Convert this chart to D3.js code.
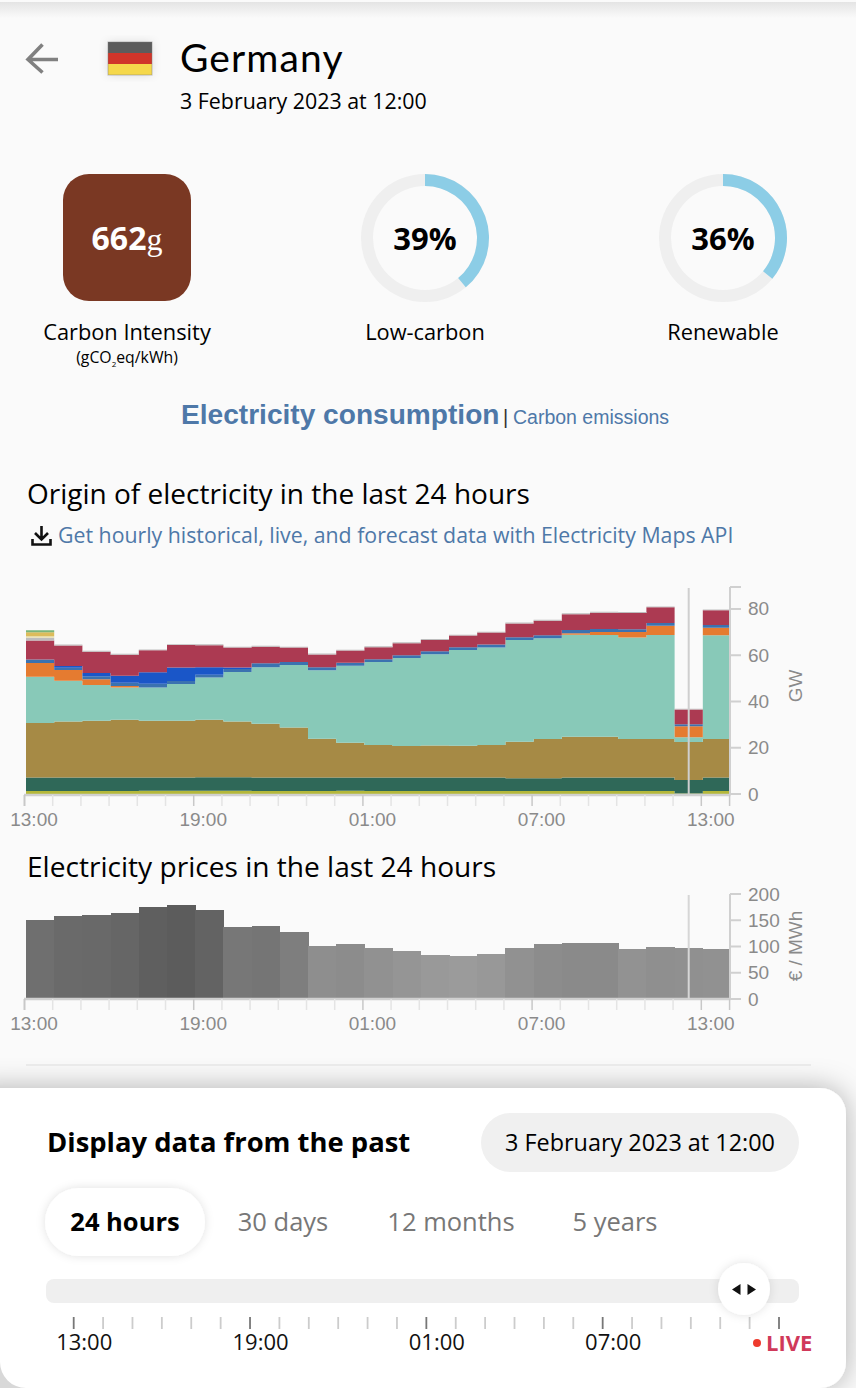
<!DOCTYPE html>
<html lang="en">
  <head>
    <meta charset="UTF-8">
    <title>Germany - electricity origin</title>
    <style>
      html, body { margin: 0; padding: 0; background: #fafafa; }
      svg { display: block; }
      text { font-family: "Open Sans", sans-serif; }
      .chart-axis text { font-family: "Liberation Sans", Arial, sans-serif; font-size: 19px; fill: #8a8a8a; }
    </style>
  </head>

  <body>
    <div id="page"></div>
    <script src="https://d3js.org/d3.v7.min.js"></script>
    <script>
      // one value per hour, 13:00 to 13:00 the next day (GW)
      const hourLabels = ["13:00", "19:00", "01:00", "07:00", "13:00"];
      const biomass = [1.3,1.3,1.3,1.3,1.4,1.4,1.4,1.4,1.3,1.3,1.3,1.4,1.3,1.3,1.3,1.3,1.3,1.3,1.3,1.3,1.3,1.3,1.3,0.2,1.3];
      const nuclear = [5.8,5.8,5.8,5.8,5.7,5.7,5.8,5.8,5.8,5.8,5.8,5.7,5.8,5.8,5.8,5.8,5.8,5.5,5.5,5.8,5.8,5.8,5.8,5.8,5.8];
      const coal = [23.6,24.2,24.6,25.0,24.6,24.6,24.9,24.2,23.3,21.6,16.8,15.1,14.1,13.7,13.9,13.8,14.1,15.8,17.0,17.7,17.7,16.7,16.7,16.5,16.7];
      const wind = [20.0,17.7,15.4,14.0,14.3,15.9,18.3,21.3,24.4,27.1,29.6,33.2,35.9,38.0,39.4,41.4,42.1,44.0,43.5,44.1,44.0,43.9,45.0,2.0,44.8];
      const solar = [5.9,4.6,2.5,0.6,0.1,0,0,0,0,0,0,0,0,0,0,0,0,0,0,0.6,1.2,2.3,3.9,4.8,3.3];
      const hydro = [1.6,1.0,1.3,1.4,1.6,1.3,1.2,1.4,1.7,1.3,1.3,1.4,1.2,1.2,1.3,1.2,1.3,1.2,1.3,1.4,1.3,1.2,1.2,0.9,1.2];
      const storage = [0,0.7,1.4,3.0,4.9,5.8,3.2,0.6,0,0,0,0,0,0,0,0,0,0,0,0,0,0,0,0,0];
      const gas = [8.2,8.9,9.2,9.1,9.5,9.7,9.5,8.6,7.2,6.2,5.5,5.2,5.2,5.2,4.9,5.0,5.2,5.9,6.3,6.8,7.1,7.1,6.8,6.3,6.3];
      const other = [1.2,0.4,0.4,0.4,0.4,0.4,0.4,0.4,0.4,0.4,0.4,0.4,0.4,0.4,0.4,0.4,0.4,0.4,0.4,0.4,0.4,0.4,0.4,0.4,0.4];
      const importA = [1.7,0,0,0,0,0,0,0,0,0,0,0,0,0,0,0,0,0,0,0,0,0,0,0,0];
      const importB = [0.6,0,0,0,0,0,0,0,0,0,0,0,0,0,0,0,0,0,0,0,0,0,0,0,0];
      const importC = [0.9,0,0,0,0,0,0,0,0,0,0,0,0,0,0,0,0,0,0,0,0,0,0,0,0];
      const prices = [150,158,160,164,175,180,169,138,140,127,101,105,97,91,84,81,86,97,104,107,107,95,100,98,96];

      const layerNames = ["biomass","nuclear","coal","wind","solar","hydro","storage","gas","other","importB","importA","importC"];
      const layerValues = [biomass,nuclear,coal,wind,solar,hydro,storage,gas,other,importB,importA,importC];
      const layerColors = ["#b5b83a","#2f6858","#a68a45","#88c9b8","#e57b30","#3b72b0","#1a56c8","#ac3a52","#bdbdbd","#e9dfb0","#dcbc5a","#7ab57a"];

      const gwTicks = [0, 20, 40, 60, 80];
      const priceTicks = [0, 50, 100, 150, 200];
      const axisEndHour = 24.95;   // the time axis stops just short of 14:00
      const cursorHour = 23.5;
      const carbonIntensity = 662;
      const lowCarbon = 39;
      const renewable = 36;
      const rangeTabs = ["24 hours", "30 days", "12 months", "5 years"];

      const blue = "#4e78a8";
      const svg = d3.select("#page").append("svg").attr("width", 856).attr("height", 1388);
      const defs = svg.append("defs");

      const shadow = defs.append("filter").attr("id", "soft").attr("x", "-20%").attr("y", "-20%").attr("width", "140%").attr("height", "140%");
      shadow.append("feDropShadow").attr("dx", 0).attr("dy", 0).attr("stdDeviation", 5).attr("flood-color", "#000").attr("flood-opacity", 0.12);
      const panelShadow = defs.append("filter").attr("id", "panelsoft").attr("x", "-5%").attr("y", "-10%").attr("width", "110%").attr("height", "120%");
      panelShadow.append("feDropShadow").attr("dx", 0).attr("dy", 0).attr("stdDeviation", 14).attr("flood-color", "#000").attr("flood-opacity", 0.3);

      const topFade = defs.append("linearGradient").attr("id", "topfade").attr("x1", 0).attr("x2", 0).attr("y1", 0).attr("y2", 1);
      topFade.append("stop").attr("offset", 0).attr("stop-color", "#e4e4e4");
      topFade.append("stop").attr("offset", 1).attr("stop-color", "#fafafa");

      svg.append("rect").attr("width", 856).attr("height", 1388).attr("fill", "#fafafa");
      svg.append("rect").attr("width", 856).attr("y", 2).attr("height", 16).attr("fill", "url(#topfade)");

      function label(g, x, y, str, size, opts) {
        opts = opts || {};
        return g.append("text").attr("x", x).attr("y", y).attr("text-anchor", opts.anchor || "start")
          .style("font-size", size + "px").style("font-weight", opts.weight || 400)
          .style("font-family", opts.family || null).attr("fill", opts.fill || "#000").text(str);
      }

      // header
      svg.append("path").attr("d", "M58 59.5H30M42.5 44.5L28 59.5L42.5 72.5").attr("fill", "none").attr("stroke", "#808080").attr("stroke-width", 3.6);
      const flagColors = ["#5b5b5b", "#d0352c", "#f5d84c"];
      const flag = svg.append("g").attr("filter", "url(#soft)");
      flagColors.forEach(function(c, i) {
        flag.append("rect").attr("x", 108).attr("y", 42 + i * 11).attr("width", 44).attr("height", 11).attr("fill", c);
      });
      svg.append("rect").attr("x", 108).attr("y", 42).attr("width", 44).attr("height", 33).attr("fill", "none").attr("stroke", "#777").attr("stroke-opacity", 0.45);
      label(svg, 180, 72, "Germany", 39, {family: "Lato"}).style("letter-spacing", "1.1px");
      label(svg, 180, 109, "3 February 2023 at 12:00", 21.4);

      // carbon square and the two rings
      svg.append("rect").attr("x", 63).attr("y", 174).attr("width", 128).attr("height", 127).attr("rx", 26).attr("fill", "#7a3823");
      const co2 = svg.append("text").attr("x", 127).attr("y", 250).attr("text-anchor", "middle").attr("fill", "#fff");
      co2.append("tspan").style("font-size", "32px").style("font-weight", 700).text(carbonIntensity);
      co2.append("tspan").style("font-size", "32px").style("font-family", "Liberation Serif").text("g");
      label(svg, 127, 340, "Carbon Intensity", 21.8, {anchor: "middle"});
      const unit = svg.append("text").attr("x", 127).attr("y", 363).attr("text-anchor", "middle").style("font-size", "15.8px");
      unit.append("tspan").text("(gCO");
      unit.append("tspan").attr("dy", 4).style("font-size", "8px").text("2");
      unit.append("tspan").attr("dy", -4).text("eq/kWh)");

      const ringArc = d3.arc().innerRadius(52).outerRadius(64);
      [[425, lowCarbon, "Low-carbon"], [723, renewable, "Renewable"]].forEach(function(r) {
        const g = svg.append("g").attr("transform", "translate(" + r[0] + ",238)");
        g.append("path").attr("d", ringArc({startAngle: 0, endAngle: 2 * Math.PI})).attr("fill", "#efefef");
        g.append("path").attr("d", ringArc({startAngle: 0, endAngle: 2 * Math.PI * r[1] / 100})).attr("fill", "#8ccde6");
        label(g, 0, 12, r[1] + "%", 31, {anchor: "middle", weight: 700});
        label(g, 0, 102, r[2], 21.8, {anchor: "middle"});
      });

      // toggle
      label(svg, 181, 424, "Electricity consumption", 28.1, {family: "Liberation Sans", weight: 700, fill: blue});
      label(svg, 503, 424, "|", 20, {family: "Liberation Sans", fill: "#333"});
      label(svg, 513, 424, "Carbon emissions", 19.5, {family: "Liberation Sans", fill: blue});

      label(svg, 27, 504, "Origin of electricity in the last 24 hours", 28);
      svg.append("path").attr("d", "M41.5 526V539M35 533L41.5 539.5L48 533M32.5 539V544.5H50.5V539").attr("fill", "none").attr("stroke", "#111").attr("stroke-width", 2.6);
      label(svg, 58, 543, "Get hourly historical, live, and forecast data with Electricity Maps API", 21.3, {fill: blue});

      // shared x scale, one step per hour
      const x = d3.scaleLinear().domain([0, axisEndHour]).range([26, 729.6]);
      const hours = d3.range(25);

      function drawHourAxis(y0) {
        const g = svg.append("g").attr("class", "chart-axis");
        g.append("line").attr("x1", 24).attr("x2", 730.5).attr("y1", y0).attr("y2", y0).attr("stroke", "#d0d0d0").attr("stroke-width", 2.5);
        hours.concat([axisEndHour]).forEach(function(h) {
          const major = h % 6 === 0;
          const tx = h === axisEndHour ? x(h) : x(h) - 1.5;
          g.append("line").attr("x1", tx).attr("x2", tx).attr("y1", y0).attr("y2", y0 + 11)
            .attr("stroke", major || h === axisEndHour ? "#c8c8c8" : "#e4e4e4").attr("stroke-width", h === 0 ? 2 : 1.5);
        });
        hourLabels.forEach(function(t, i) {
          g.append("text").attr("x", x(i * 6) + 8).attr("y", y0 + 31).attr("text-anchor", "middle").text(t);
        });
      }

      function drawValueAxis(y, ticks, title, titleY) {
        const g = svg.append("g").attr("class", "chart-axis");
        g.append("line").attr("x1", 730).attr("x2", 730).attr("y1", y.range()[1]).attr("y2", y.range()[0]).attr("stroke", "#d0d0d0").attr("stroke-width", 2);
        const tickValues = ticks.concat(y.domain()[1] === ticks[ticks.length - 1] ? [] : [y.domain()[1]]);
        tickValues.forEach(function(v) {
          g.append("line").attr("x1", 730).attr("x2", 741).attr("y1", y(v)).attr("y2", y(v)).attr("stroke", "#d0d0d0").attr("stroke-width", 2);
        });
        ticks.forEach(function(v) {
          g.append("text").attr("x", 748).attr("y", y(v) + 6.5).text(v);
        });
        g.append("text").attr("transform", "translate(802," + titleY + ") rotate(-90)").attr("text-anchor", "middle").text(title);
      }

      // origin chart
      const yGw = d3.scaleLinear().domain([0, 89.5]).range([794, 587]);
      const rows = hours.concat([axisEndHour]).map(function(h) {
        const row = {hour: h};
        layerNames.forEach(function(n, i) { row[n] = layerValues[i][Math.min(Math.floor(h), 24)]; });
        return row;
      });
      const stacked = d3.stack().keys(layerNames)(rows);
      const area = d3.area().curve(d3.curveStepAfter)
        .x(function(d) { return x(d.data.hour); })
        .y0(function(d) { return yGw(d[0]); })
        .y1(function(d) { return yGw(d[1]); });

      svg.append("g").selectAll("path").data(stacked).join("path")
        .attr("d", area).attr("fill", function(d, i) { return layerColors[i]; });

      drawHourAxis(795);
      drawValueAxis(yGw, gwTicks, "GW", 686);
      svg.append("line").attr("x1", x(cursorHour)).attr("x2", x(cursorHour)).attr("y1", 588).attr("y2", 795).attr("stroke", "#cfcfcf").attr("stroke-width", 2);

      // price chart
      label(svg, 27, 877, "Electricity prices in the last 24 hours", 28.1);
      const yPrice = d3.scaleLinear().domain([0, 200]).range([999, 894]);
      const priceColor = d3.scaleLinear().domain([81, 180]).range(["#9b9b9b", "#5c5c5c"]);
      svg.append("g").attr("shape-rendering", "crispEdges").selectAll("rect").data(prices).join("rect")
        .attr("x", function(d, i) { return x(i); })
        .attr("width", function(d, i) { return x(Math.min(i + 1, axisEndHour)) - x(i) + 0.5; })
        .attr("y", function(d) { return yPrice(d); })
        .attr("height", function(d) { return yPrice(0) - yPrice(d); })
        .attr("fill", function(d) { return priceColor(d); });
      drawHourAxis(999);
      drawValueAxis(yPrice, priceTicks, "€ / MWh", 946);
      svg.append("line").attr("x1", x(cursorHour)).attr("x2", x(cursorHour)).attr("y1", 895).attr("y2", 999).attr("stroke", "#d6d6d6").attr("stroke-width", 2);

      svg.append("line").attr("x1", 26).attr("x2", 811).attr("y1", 1065).attr("y2", 1065).attr("stroke", "#e8e8e8").attr("stroke-width", 1.5);

      // bottom panel
      svg.append("rect").attr("x", -40).attr("y", 1088).attr("width", 886).attr("height", 300).attr("rx", 26).attr("fill", "#fff").attr("filter", "url(#panelsoft)");
      svg.append("path").attr("d", "M0 1388H26A26 26 0 0 1 0 1362Z").attr("fill", "#d8d8d8");
      label(svg, 47, 1152, "Display data from the past", 27.4, {weight: 700});
      svg.append("rect").attr("x", 481).attr("y", 1113).attr("width", 318).attr("height", 59).attr("rx", 29.5).attr("fill", "#f0f0f0");
      label(svg, 640, 1151, "3 February 2023 at 12:00", 23.4, {anchor: "middle"});

      svg.append("rect").attr("x", 45).attr("y", 1188).attr("width", 160).attr("height", 68).attr("rx", 34).attr("fill", "#fff").attr("filter", "url(#soft)");
      const tabX = [125, 283, 451, 615];
      rangeTabs.forEach(function(t, i) {
        label(svg, tabX[i], 1231, t, 25.5, {anchor: "middle", weight: i === 0 ? 700 : 400, fill: i === 0 ? "#000" : "#777"});
      });

      // time slider
      svg.append("rect").attr("x", 46).attr("y", 1279).attr("width", 753).attr("height", 24).attr("rx", 8).attr("fill", "#efefef");
      const sliderX = d3.scaleLinear().domain([0, 24]).range([73.7, 779]);
      d3.range(25).forEach(function(h) {
        svg.append("line").attr("x1", sliderX(h)).attr("x2", sliderX(h)).attr("y1", 1317).attr("y2", 1329)
          .attr("stroke", h % 6 === 0 ? "#777" : "#ccc").attr("stroke-width", 1.8);
      });
      hourLabels.slice(0, 4).forEach(function(t, i) {
        label(svg, sliderX(i * 6) + 10.5, 1350, t, 22, {anchor: "middle", fill: "#111"});
      });
      svg.append("circle").attr("cx", 744).attr("cy", 1289).attr("r", 26).attr("fill", "#fff").attr("filter", "url(#soft)");
      svg.append("path").attr("d", "M732 1289.5L740.5 1284V1295ZM756 1289.5L747.5 1284V1295Z").attr("fill", "#111");
      svg.append("circle").attr("cx", 757).attr("cy", 1343).attr("r", 4).attr("fill", "#ee3a2d");
      label(svg, 766, 1351, "LIVE", 22, {weight: 700, fill: "#d0395a"});
    </script>
  </body>
</html>
